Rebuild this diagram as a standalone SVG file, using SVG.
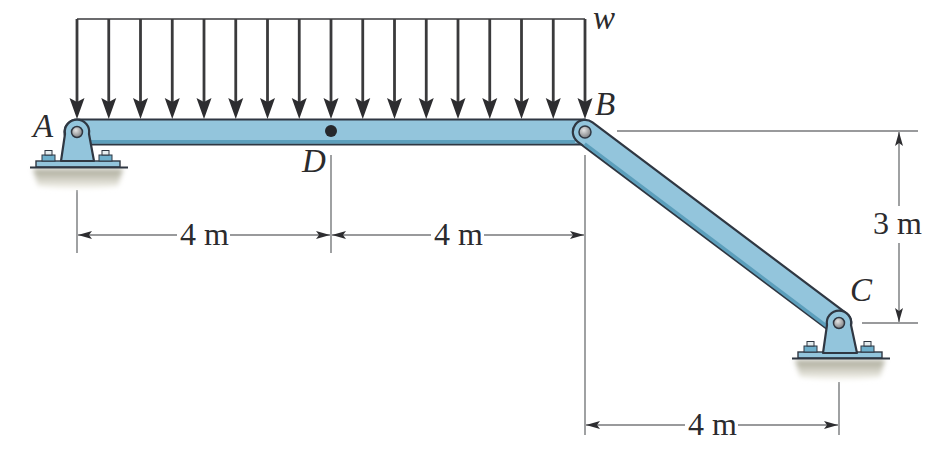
<svg xmlns="http://www.w3.org/2000/svg" xmlns:xlink="http://www.w3.org/1999/xlink" width="947" height="455" viewBox="0 0 947 455">
<style>
.dim{stroke:#77797b;stroke-width:1.4;fill:none}
.load{stroke:#3a3a3c;stroke-width:2.8;fill:none}
.body{fill:#93c5dc;stroke:#2f3742;stroke-width:2.2;stroke-linejoin:round}
.under{fill:#5c9fbc}
.t{font-family:"Liberation Serif",serif;fill:#2b2b2d;font-size:32px}
.i{font-style:italic;font-size:33px}
.ah{fill:#2d2d30}
.bolt{fill:#6fb0cc;stroke:#2f3742;stroke-width:1}
.nut{fill:#e6eef0;stroke:#2f3742;stroke-width:1}
</style>
<defs>
<filter id="blur" x="-20%" y="-60%" width="140%" height="220%"><feGaussianBlur stdDeviation="2.5"/></filter>
<linearGradient id="sh" x1="0" y1="0" x2="0" y2="1"><stop offset="0" stop-color="#a9a897"/><stop offset="1" stop-color="#f7f6f0"/></linearGradient>
<radialGradient id="pin" cx="0.4" cy="0.35" r="0.7"><stop offset="0" stop-color="#e4e4e4"/><stop offset="1" stop-color="#77797c"/></radialGradient>
<g id="arrow"><line class="load" x1="0" y1="19" x2="0" y2="102"/><path class="ah" d="M-7.500 98L0 102L7.500 98L0 119Z"/></g>
<g id="base">
<path d="M-45 2H45L40 19Q0 24 -40 19Z" fill="url(#sh)" filter="url(#blur)"/>
<rect x="-42" y="-6" width="84" height="6" fill="#93c5dc" stroke="#2f3742" stroke-width="1.4"/>
<line x1="-48" y1="0.5" x2="50" y2="0.5" stroke="#2f3742" stroke-width="1.8"/>
<rect class="bolt" x="-36" y="-12" width="13" height="6"/><rect class="nut" x="-33" y="-16.500" width="7" height="4.500"/>
<rect class="bolt" x="21" y="-12" width="13" height="6"/><rect class="nut" x="24" y="-16.500" width="7" height="4.500"/>
</g>
<marker id="tip" viewBox="0 0 14 8" refX="14" refY="4" markerWidth="14" markerHeight="8" markerUnits="userSpaceOnUse" orient="auto-start-reverse"><path d="M0 0L14 4L0 8L3 4Z" fill="#2d2d30"/></marker>
</defs>
<rect width="947" height="455" fill="#fff"/>
<g id="connectors">
<line class="dim" x1="77" y1="19" x2="585" y2="19" style="stroke:#3a3a3c;stroke-width:1.6"/>
<g id="loads">
<use xlink:href="#arrow" href="#arrow" x="77"/><use xlink:href="#arrow" href="#arrow" x="108.750"/><use xlink:href="#arrow" href="#arrow" x="140.500"/><use xlink:href="#arrow" href="#arrow" x="172.250"/><use xlink:href="#arrow" href="#arrow" x="204"/><use xlink:href="#arrow" href="#arrow" x="235.750"/><use xlink:href="#arrow" href="#arrow" x="267.500"/><use xlink:href="#arrow" href="#arrow" x="299.250"/><use xlink:href="#arrow" href="#arrow" x="331"/><use xlink:href="#arrow" href="#arrow" x="362.750"/><use xlink:href="#arrow" href="#arrow" x="394.500"/><use xlink:href="#arrow" href="#arrow" x="426.250"/><use xlink:href="#arrow" href="#arrow" x="458"/><use xlink:href="#arrow" href="#arrow" x="489.750"/><use xlink:href="#arrow" href="#arrow" x="521.500"/><use xlink:href="#arrow" href="#arrow" x="553.250"/><use xlink:href="#arrow" href="#arrow" x="585"/>
</g>
<line class="dim" x1="77" y1="190" x2="77" y2="253"/>
<line class="dim" x1="331" y1="155" x2="331" y2="253"/>
<line class="dim" x1="585" y1="155" x2="585" y2="435"/>
<line class="dim" x1="839" y1="382" x2="839" y2="435"/>
<line class="dim" x1="617" y1="131" x2="918" y2="131"/>
<line class="dim" x1="862" y1="323" x2="918" y2="323"/>
<line class="dim" x1="177" y1="235" x2="78" y2="235" marker-end="url(#tip)"/>
<line class="dim" x1="230" y1="235" x2="330" y2="235" marker-end="url(#tip)"/>
<line class="dim" x1="431" y1="235" x2="332" y2="235" marker-end="url(#tip)"/>
<line class="dim" x1="484" y1="235" x2="584" y2="235" marker-end="url(#tip)"/>
<line class="dim" x1="685" y1="425" x2="586" y2="425" marker-end="url(#tip)"/>
<line class="dim" x1="738" y1="425" x2="838" y2="425" marker-end="url(#tip)"/>
<line class="dim" x1="899" y1="206" x2="899" y2="132" marker-end="url(#tip)"/>
<line class="dim" x1="899" y1="243" x2="899" y2="322" marker-end="url(#tip)"/>
</g>
<g id="support-A"><use xlink:href="#base" href="#base" x="78" y="167"/></g>
<g id="support-C"><use xlink:href="#base" href="#base" x="840" y="358"/></g>
<g id="beam-AB">
<path class="body" d="M77 119.500H585V144.500H77A12.500 12.500 0 0 1 77 119.500Z"/>
<rect class="under" x="90" y="140" width="485" height="3.500"/>
</g>
<g id="link-BC">
<path class="body" d="M592.500 122.400L846.500 313.400A12 12 0 0 1 832 332.600L577.500 141.600A12 12 0 0 1 592.500 122.400Z"/>
<path d="M584.700 143.800L827.700 326.800" stroke="#5c9fbc" stroke-width="3.500" fill="none"/>
</g>
<g id="clevis-A"><path class="body" d="M61 161L65 134A12.200 12.200 0 1 1 89 134L94 161Z"/></g>
<g id="clevis-C"><path class="body" d="M823 353L827 325A12.200 12.200 0 1 1 851 325L857 353Z"/></g>
<g id="pin-A"><circle cx="77" cy="132" r="5.500" fill="url(#pin)" stroke="#2f3742" stroke-width="1.500"/></g>
<g id="pin-B"><circle cx="585" cy="132" r="6" fill="url(#pin)" stroke="#2f3742" stroke-width="1.500"/></g>
<g id="pin-C"><circle cx="839" cy="323" r="5.500" fill="url(#pin)" stroke="#2f3742" stroke-width="1.500"/></g>
<g id="point-D"><circle cx="331" cy="131" r="6" fill="#26282c"/></g>
<g id="labels">
<text class="t i" x="33" y="137">A</text>
<text class="t i" x="595" y="115">B</text>
<text class="t i" x="850" y="301">C</text>
<text class="t i" x="302" y="172">D</text>
<text class="t i" x="593" y="29">w</text>
<text class="t" x="180" y="245">4 m</text>
<text class="t" x="434" y="245">4 m</text>
<text class="t" x="688" y="435">4 m</text>
<text class="t" x="873" y="234">3 m</text>
</g>
</svg>
